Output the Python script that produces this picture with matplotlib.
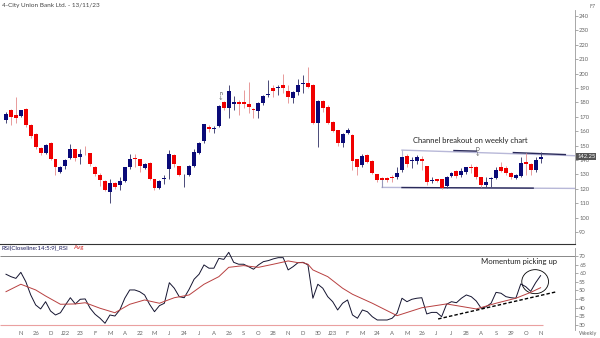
import numpy as np
import matplotlib
matplotlib.use("Agg")
import matplotlib.pyplot as plt
from matplotlib.patches import Ellipse

plt.rcParams['font.family'] = ['Lato', 'DejaVu Sans']

# weekly candles
opens = [167.7, 174.7, 171.2, 170.8, 175.4, 164.3, 158, 148.5, 145, 152,
         140.7, 131.9, 135.8, 141.6, 147.4, 142.3, 145.8, 144.6, 135.3, 129.5,
         125.6, 118, 124.2, 122.6, 125.6, 134.9, 141.2, 140.7, 134.7, 138.1,
         126.8, 120.3, 127, 133.5, 143.4, 135.8, 129.3, 129.5, 135.8, 144.6,
         153.4, 162.9, 161.8, 163.6, 180.5, 175.8, 178.6, 180.5, 180.5, 178.9,
         175.3, 174.2, 179.3, 185.4, 190, 190.3, 192.3, 188.1, 182.8, 187.4,
         192.6, 193.2, 192, 165.4, 181.2, 177, 166.3, 160.8, 152, 158.5,
         157.3, 140.4, 136.5, 143.4, 139.3, 130, 127.7, 127.6, 128, 127.9,
         133.1, 143, 139.3, 139.5, 140.7, 135.8, 125.4, 126.5, 126.5, 121.9,
         128.9, 132.3, 129.5, 131.9, 135.4, 134.9, 127.9, 122.6, 127, 127.2,
         134.9, 134.2, 130.7, 127.2, 128.9, 138.3, 137.3, 133.1, 140.7]
highs = [173.5, 175.5, 184, 175, 176, 165, 158.5, 149, 151, 152.5,
         141, 136, 141, 151, 148, 147.4, 149.7, 145, 136, 131,
         126, 126.5, 124.5, 128, 135.5, 144, 144, 141, 138, 138.5,
         127, 126, 129.5, 147, 144, 136, 130, 136.5, 147.4, 152.5,
         165, 164.3, 163.6, 178, 181, 192, 184.4, 181.6, 188.6, 194.4,
         176, 180.5, 185, 195.5, 192, 192, 199.7, 192, 188, 196,
         199, 204.8, 193, 182, 182, 178, 167, 161, 158.5, 162,
         158, 141, 144.2, 144, 140, 130.5, 128.4, 128.5, 129.5, 135,
         146.9, 144, 142.3, 143.4, 142.8, 136, 128, 127, 127, 129,
         132, 133, 134.2, 135.5, 137.6, 136, 128.5, 127.9, 128, 135.3,
         138.8, 136, 131.5, 130.5, 142.3, 144.8, 137.8, 142.3, 145.3]
lows = [166, 164, 165.5, 170, 163, 155.5, 148, 143.5, 144, 140,
        129.5, 131, 133.5, 140.5, 139.5, 137.2, 143.4, 136, 129, 122,
        118.5, 109.9, 120, 119, 124.5, 134, 135, 132, 133.5, 126,
        119, 120, 123.5, 126.5, 135.3, 129, 121.5, 129, 135, 144,
        152, 159.6, 158.5, 163, 174.5, 169, 174.7, 171.2, 175.8, 172.4,
        169, 169, 178, 184, 184, 185, 186.3, 179.8, 179.3, 185,
        186.3, 189.7, 165, 149.2, 173.5, 165, 159.5, 149.7, 149.2, 158,
        133, 129.5, 134.9, 138, 130, 125, 124.9, 125, 125, 127,
        132, 135.3, 134.2, 137, 133.1, 123, 124, 124.5, 120, 120.5,
        128, 127.5, 128.5, 130.5, 130.8, 127, 121.4, 121.5, 121, 126.5,
        131.5, 129.5, 126.5, 126.5, 128, 129.5, 129.3, 132, 138]
closes = [171.9, 170.1, 168.9, 174.7, 164.3, 156.6, 148.8, 145, 150.4, 140.7,
          134.9, 135.3, 140, 147.4, 141.1, 143.9, 145.3, 137, 130, 126.1,
          119.1, 124.2, 121.4, 125.6, 134.9, 140.4, 140.6, 135.8, 137.6, 126.8,
          120.3, 125.6, 127.4, 143.9, 137.6, 129.5, 129.7, 135.8, 145.8, 152,
          164.7, 161.3, 162.2, 177.5, 175.8, 188.1, 180.5, 179.1, 178.9, 176.5,
          174.9, 179.8, 184.4, 185.8, 188.1, 190.7, 190.2, 183.5, 187, 192,
          193, 190.9, 165.9, 181.2, 175.8, 165.9, 160.4, 152, 158, 160.8,
          139.5, 135.3, 142.8, 138.8, 131.2, 126.1, 126.1, 126.2, 127.6, 131.2,
          142.3, 137.6, 139.7, 141.8, 139.5, 124.9, 125.8, 125.6, 120.8, 128.4,
          131.2, 128.9, 132.3, 134.9, 134.4, 128, 122.6, 124.9, 127.4, 133,
          132.6, 130.7, 127.9, 129.5, 138.1, 137.5, 132.8, 140, 142.25]

rsi = [59.4, 58, 57, 60.5, 55.1, 47.4, 41.6, 39.3, 43.5, 38.1,
       35.8, 37.1, 41.6, 45.8, 42.2, 44.9, 45.1, 39.7, 36.2, 33.9,
       31, 35.8, 35.2, 38.7, 45.5, 50.3, 50.3, 49.3, 47.4, 42,
       37.7, 41.2, 42.6, 54.5, 51.3, 46.4, 45.8, 50.7, 56.5, 59.4,
       64.8, 62.9, 62.9, 68.6, 68, 72.1, 66.3, 65.2, 65.2, 63.8,
       62.3, 64.8, 66.7, 67.3, 68.3, 69, 69, 61.9, 63.8, 66.1,
       66.3, 64.8, 45.5, 53.6, 51.3, 46.4, 43.5, 38.7, 42.6, 44.5,
       35.8, 33.9, 38.7, 37.7, 34.8, 32.9, 32.9, 32.9, 33.9, 36.8,
       45.5, 43.5, 44.9, 45.5, 45.8, 36.4, 37.3, 37.3, 34.8, 42,
       43.5, 42.9, 45.5, 47.4, 46.4, 43.9, 39.7, 40.6, 42.6, 48.9,
       48.4, 46.4, 45.8, 45.5, 53.8, 52.2, 49.5, 54.5, 58.6]

# RSI average, read at these candle numbers
avg_idx = [0, 3, 6, 8, 11, 14, 16, 19, 22, 25, 28, 31, 34, 37, 40, 43, 45, 48,
           51, 54, 57, 59, 60, 61, 62, 65, 68, 70, 74, 79, 84, 89, 95, 99, 103,
           106, 108]
avg_val = [49.3, 53.6, 50.3, 46.8, 42, 42.2, 42.9, 39.7, 37.1, 42, 44.5, 42.6,
           45.8, 47.4, 53.6, 58, 63.4, 64.4, 63.4, 65.2, 67.1, 66.1, 66.1, 65.2,
           61.9, 58, 51.3, 47.8, 42.6, 35.4, 40, 42.2, 39.3, 42.6, 45.5, 48.9, 51.6]

date_labels = ["N", "26", "D", "J22", "23", "F", "M", "A", "22", "M", "J", "24",
               "J", "A", "26", "S", "O", "28", "N", "D", "30", "J23", "F", "M",
               "24", "A", "M", "26", "J", "J", "28", "A", "S", "29", "O", "N"]
price_ticks = list(range(90, 250, 10))
rsi_ticks = list(range(30, 75, 5))

W, H = 600, 338
fig = plt.figure(figsize=(6, 3.38), dpi=100)


def px_axes(x0, y0, x1, y1):
    return fig.add_axes([x0 / W, 1 - y1 / H, (x1 - x0) / W, (y1 - y0) / H])


BLUE = "#0a0a78"
RED = "#f00000"
GRAY = "#666666"

# ---- price panel
ax = px_axes(0, 10, 575, 244)
ax.set_xlim(-1.21, 114.95)
ax.set_ylim(81.7, 244.2)

o = np.array(opens); c = np.array(closes)
hi = np.array(highs); lo = np.array(lows)
x = np.arange(len(o))
up = c >= o
body_lo = np.minimum(o, c)
body_h = np.maximum(np.abs(c - o), 0.6)
ax.vlines(x[up], lo[up], hi[up], color="#4a4a78", lw=0.7, zorder=2)
ax.vlines(x[~up], lo[~up], hi[~up], color="#e89a9a", lw=0.7, zorder=2)
ax.bar(x[up], body_h[up], bottom=body_lo[up], width=0.8, color=BLUE, zorder=3)
ax.bar(x[~up], body_h[~up], bottom=body_lo[~up], width=0.8, color=RED, zorder=3)

# channel lines
ax.plot([80, 115], [146.9, 143.0], color="#b8b8d8", lw=1.0, zorder=1)
ax.plot([90.5, 95], [146.6, 146.2], color="#2a2a5a", lw=1.0, zorder=1)
ax.plot([102.5, 113], [145.2, 143.8], color="#2a2a5a", lw=1.0, zorder=1)
ax.plot([80, 80], [146.9, 142.8], color="#b8b8d8", lw=0.8)
ax.plot([76, 115], [121.0, 120.3], color="#b8b8d8", lw=1.0, zorder=1)
ax.plot([80, 106.5], [120.9, 120.5], color="#2a2a5a", lw=1.0, zorder=1)
ax.plot([76, 76], [121.0, 127.2], color="#9a9aba", lw=0.8)

ax.text(82.3, 153.5, "Channel breakout on weekly chart", fontsize=5.5,
        color="#222222", va="center", ha="left")
ax.text(43.4, 165.5 + 16, "n\n\u2193", fontsize=3.5, color="#333333",
        ha="center", va="bottom", linespacing=0.8)
ax.text(95.2, 137.5 + 5, "D\n\u2193", fontsize=3.5, color="#333333",
        ha="center", va="bottom", linespacing=0.8)

ax.yaxis.tick_right()
ax.set_yticks(price_ticks)
ax.set_xticks([])
ax.tick_params(axis="y", length=2, width=0.5, color="#888888", labelsize=4.2,
               labelcolor=GRAY, pad=1)
for s in ["top", "left"]:
    ax.spines[s].set_visible(False)
ax.spines["right"].set_color("#999999")
ax.spines["right"].set_linewidth(0.6)
ax.spines["bottom"].set_color("#333333")
ax.spines["bottom"].set_linewidth(0.8)

ax.text(1.004, (closes[-1] - 81.7) / (244.2 - 81.7), "142.25",
        transform=ax.transAxes, fontsize=4.2, color="white", va="center",
        ha="left", bbox=dict(boxstyle="square,pad=0.15", fc="#555555", ec="none"))

# ---- RSI panel
rax = px_axes(0, 248, 575, 330)
rax.set_xlim(-1.21, 114.95)
rax.set_ylim(27.1, 74.6)
rax.hlines(70, -1.21, 114.95, color="#888888", lw=0.7)
rax.hlines(30, -1.21, 108.5, color="#eaa0a0", lw=0.8)
rax.plot(x, rsi, color="#141430", lw=0.7)
rax.plot(avg_idx, avg_val, color="#b84040", lw=0.7)

rax.plot([87.3, 111.3], [33.5, 49.3], color="black", lw=1.0,
         linestyle=(0, (2.5, 1.5)))
rax.add_patch(Ellipse((106.9, 55.1), 5.4, 13.9, fill=False, ec="black", lw=0.6))
rax.text(96.0, 66.8, "Momentum picking up", fontsize=5.6, color="#222222",
         va="center", ha="left")

rax.yaxis.tick_right()
rax.set_yticks(rsi_ticks)
rax.set_xticks(np.arange(3, 3 + 3 * len(date_labels), 3))
rax.set_xticklabels(date_labels)
rax.tick_params(axis="y", length=2, width=0.5, color="#888888", labelsize=4.2,
                labelcolor=GRAY, pad=1)
rax.tick_params(axis="x", length=0, labelsize=4.2, labelcolor=GRAY, pad=1)
for s in ["top", "left", "bottom"]:
    rax.spines[s].set_visible(False)
rax.spines["right"].set_color("#999999")
rax.spines["right"].set_linewidth(0.6)

fig.text(2 / W, 1 - 5 / H, "4-City Union Bank Ltd. - 13/11/23", fontsize=4.6,
         color="#444444", va="center", ha="left")
fig.text(590 / W, 1 - 6 / H, "F7", fontsize=3.8, color="#666666", va="center")
fig.text(2 / W, 1 - 248 / H, "RSI(Closeline:14:5:9)_RSI", fontsize=4.4,
         color="#1a1a5a", va="center", ha="left")
fig.text(74 / W, 1 - 248 / H, "Avg", fontsize=4.4, color="#d02020",
         va="center", ha="left")
fig.text(579 / W, 1 - 334 / H, "Weekly", fontsize=4.0, color=GRAY,
         va="center", ha="left")

fig.savefig("out.png", dpi=100)
